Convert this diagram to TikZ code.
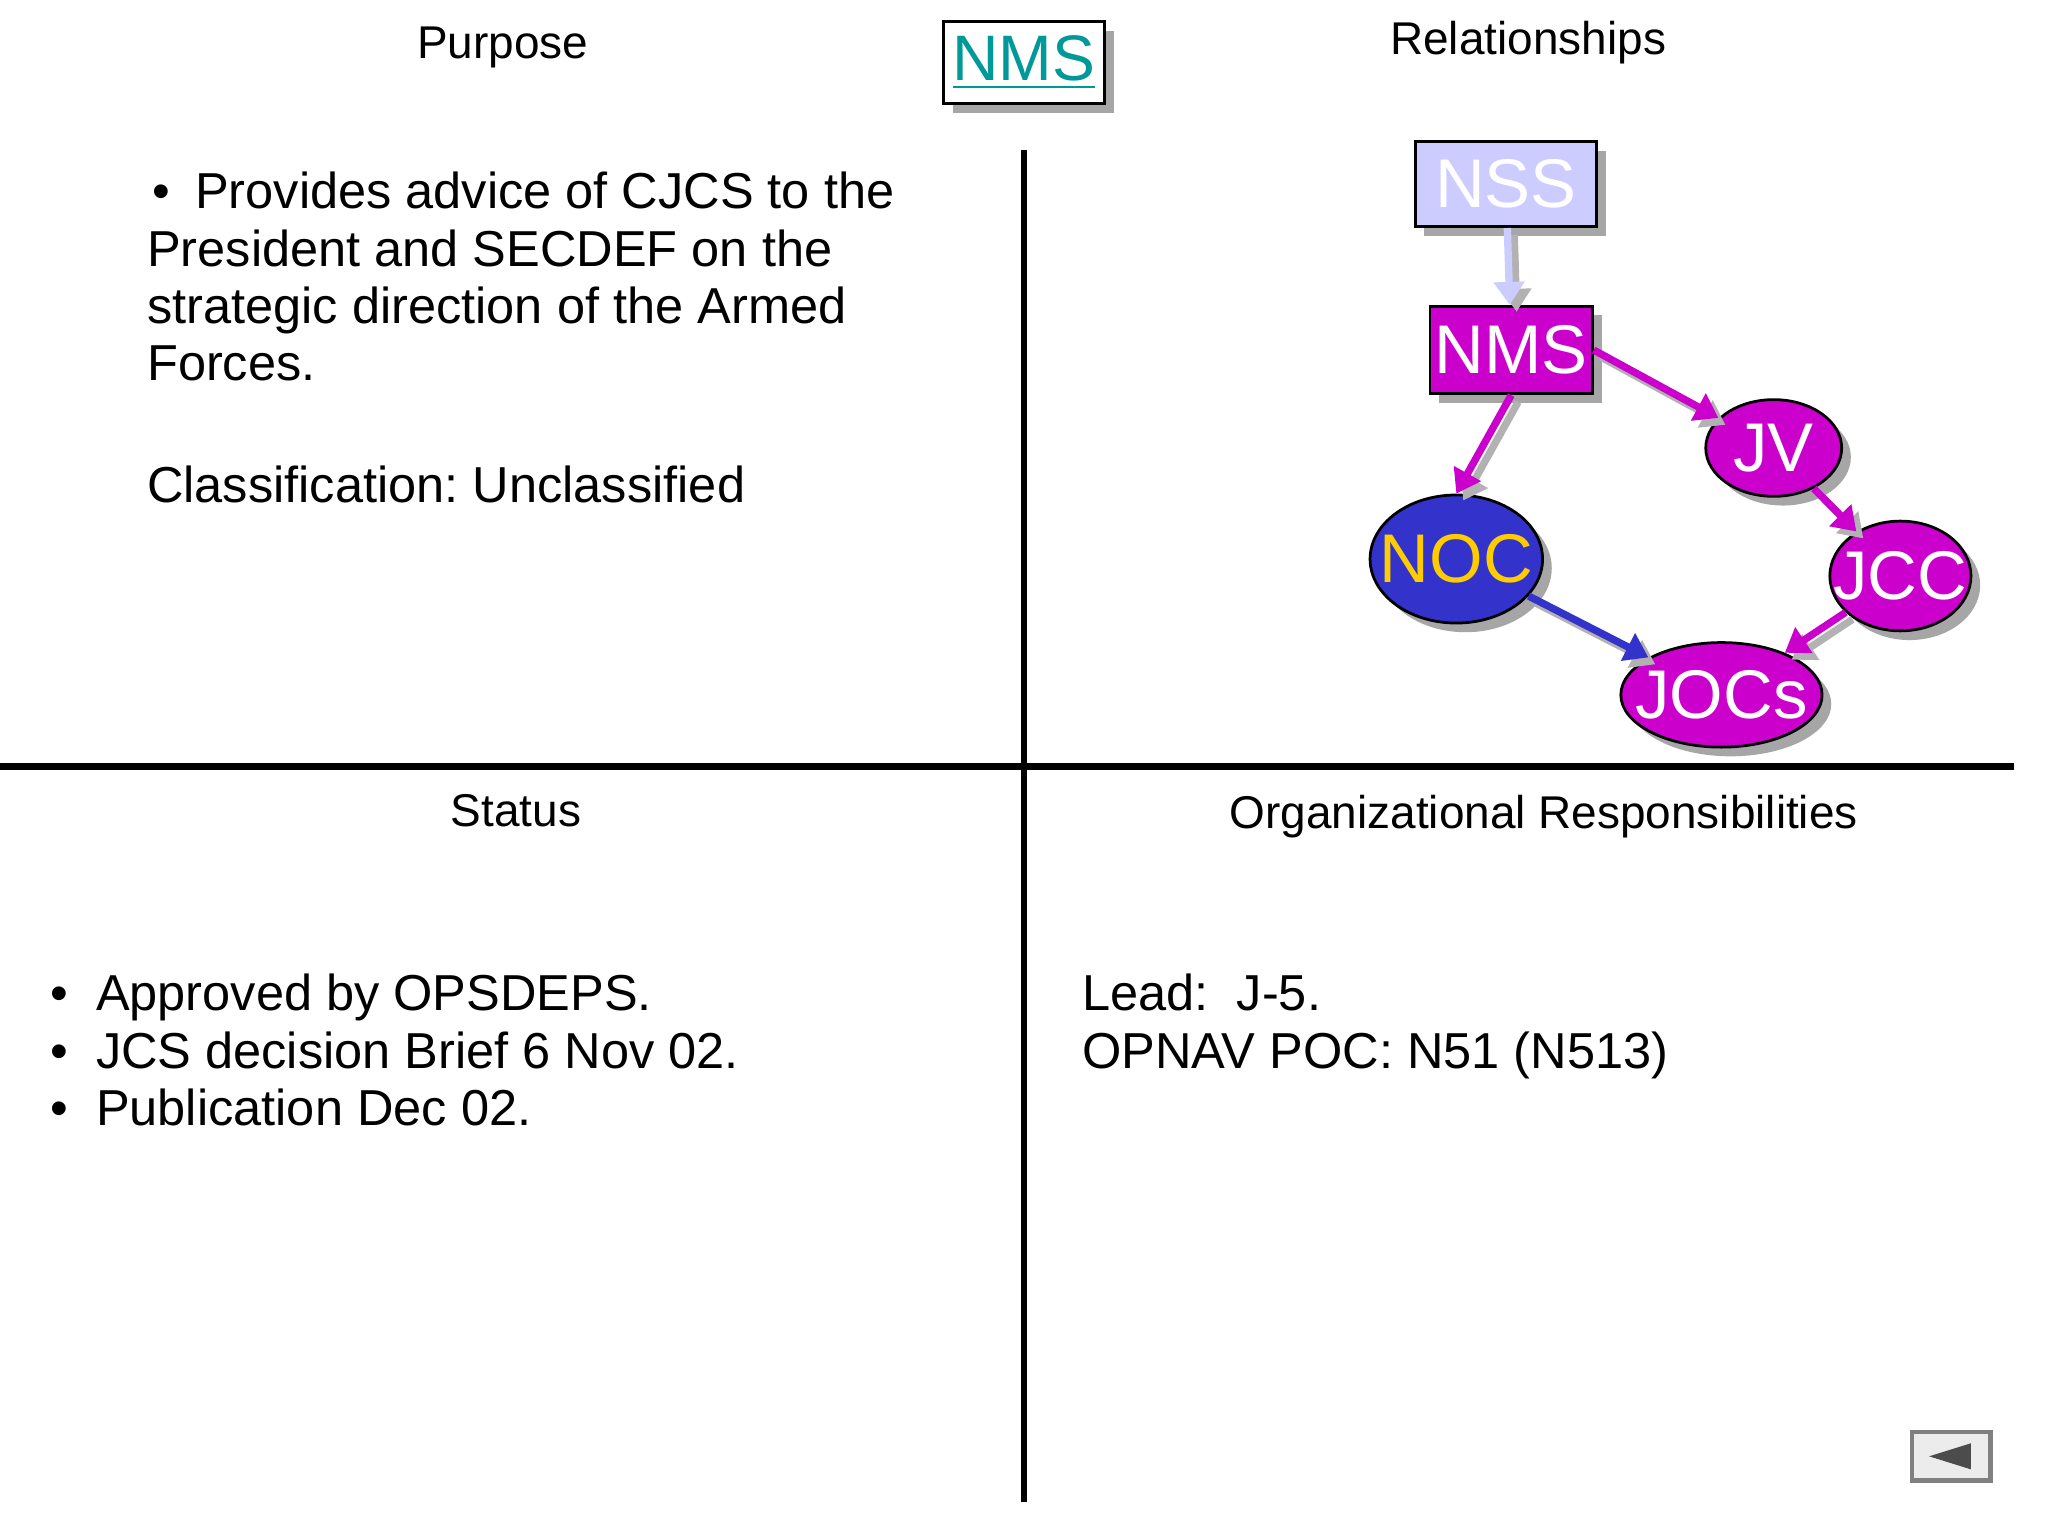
\documentclass[tikz,border=0pt]{standalone}
\usepackage{fontspec}
\setmainfont{Liberation Sans}
\frenchspacing
\usetikzlibrary{shapes.geometric,arrows.meta,shadows,calc}
\definecolor{mag}{HTML}{CC00CC}
\definecolor{lav}{HTML}{CCCCFF}
\definecolor{nblue}{HTML}{3333CC}
\definecolor{ngold}{HTML}{FFCC00}
\definecolor{teal2}{HTML}{009999}
\tikzset{
  hdr/.style={font=\fontsize{10}{12}\selectfont},
  body/.style={font=\fontsize{11}{12.5}\selectfont,align=left,anchor=north west,inner sep=0pt},
  box/.style={draw=black,line width=0.6pt,font=\fontsize{15}{15}\selectfont,text=white,drop shadow={shadow xshift=2pt,shadow yshift=-2pt,fill=gray!70,opacity=1}},
  ell/.style={ellipse,draw=black,line width=0.6pt,fill=mag,text=white,font=\fontsize{15}{15}\selectfont,inner xsep=-12pt,inner ysep=-8pt,drop shadow={shadow xshift=2pt,shadow yshift=-2pt,fill=gray!70,opacity=1}},
  conn/.style={line width=1.6pt,-{Triangle[length=5pt,width=6.5pt]},preaction={draw=gray!60,line width=1.6pt,transform canvas={xshift=1.5pt,yshift=-1.5pt}}},
}
\begin{document}
\begin{tikzpicture}[x=0.01cm,y=-0.01cm]
\useasboundingbox (0,0) rectangle (1568,1176);
\fill[white] (0,0) rectangle (1568,1176);
\draw[line width=1.4pt] (784,115) -- (784,1150);
\draw[line width=1.4pt] (0,587) -- (1542,587);
\node[hdr] (tp) at (385,36) {Purpose};
\node[hdr] (tr) at (1170,33) {Relationships};
\node[hdr] (ts) at (395,621) {Status};
\node[hdr] (to) at (1182,625) {Organizational Responsibilities};
\node[draw=black,line width=0.6pt,text=teal2,font=\fontsize{14}{14}\selectfont,inner xsep=2pt,inner ysep=3pt,drop shadow={shadow xshift=2pt,shadow yshift=-2pt,fill=gray!70,opacity=1},fill=white] (title) at (784,48) {\underline{NMS}};
\node[body] (p1) at (112,131) {\hspace*{0.1em}•\hspace{0.5em}Provides advice of CJCS to the\\President and SECDEF on the\\strategic direction of the Armed\\Forces.\\[2.4ex]Classification: Unclassified};
\node[body] (s1) at (38,745) {•\hspace{0.55em}Approved by OPSDEPS.\\•\hspace{0.55em}JCS decision Brief 6 Nov 02.\\•\hspace{0.55em}Publication Dec 02.};
\node[body] (o1) at (828,745) {Lead:\ \ J-5.\\OPNAV POC: N51 (N513)};
\node[box,fill=lav,minimum width=1.39cm,minimum height=0.65cm,inner sep=1pt] (nss) at (1153,141) {NSS};
\node[box,fill=mag,inner sep=1pt,minimum height=0.67cm] (nms) at (1157,268) {NMS};
\node[ell,minimum width=1.04cm,minimum height=0.74cm] (jv) at (1358,343) {JV};
\node[ell,fill=nblue,text=ngold,minimum width=1.32cm,minimum height=0.98cm] (noc) at (1115,428) {NOC};
\node[ell,minimum width=1.08cm,minimum height=0.84cm] (jcc) at (1455,441) {JCC};
\node[ell,minimum width=1.54cm,minimum height=0.80cm] (jocs) at (1318,532) {JOCs};
\draw[conn,lav] (nss) -- (nms);
\draw[conn,mag] (nms.east) -- (jv);
\draw[conn,mag] (nms.south) -- (noc.north);
\draw[conn,mag] (jv) -- (jcc);
\draw[conn,mag] (jcc) -- (jocs);
\draw[conn,nblue] (noc) -- (jocs);
\node[draw=gray,line width=1pt,fill=gray!15,minimum width=0.6cm,minimum height=0.37cm,inner sep=0pt] (back) at (1494,1115) {};
\fill[gray!60!black] ($(back.center)+(-17,0)$) -- ++(32,-10) -- ++(0,20) -- cycle;
\end{tikzpicture}
\end{document}
